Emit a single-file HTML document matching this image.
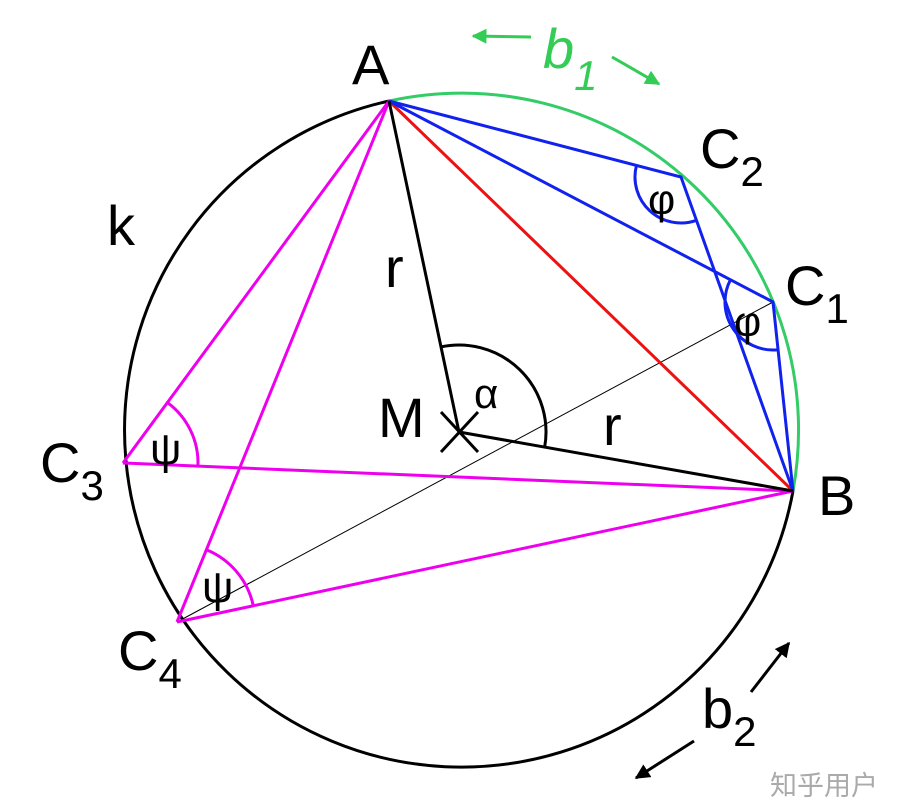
<!DOCTYPE html>
<html><head><meta charset="utf-8"><style>
html,body{margin:0;padding:0;background:#fff;}
svg{display:block}
text{font-family:"Liberation Sans","Noto Sans CJK SC",sans-serif;}
</style></head><body>
<svg id="s" width="905" height="812" viewBox="0 0 905 812" xmlns="http://www.w3.org/2000/svg">
<defs>
<marker id="ag" viewBox="0 0 10 10" refX="9" refY="5" markerWidth="5" markerHeight="5" orient="auto"><path d="M0,0 L10,5 L0,10 z" fill="#33cc55"/></marker>
<marker id="ak" viewBox="0 0 10 10" refX="9" refY="5" markerWidth="5" markerHeight="5" orient="auto"><path d="M0,0 L10,5 L0,10 z" fill="#000"/></marker>
</defs>
<path d="M793,491 A337,337 0 1 1 389,101" fill="none" stroke="#000" stroke-width="3"/>
<path d="M389,101 A337,337 0 0 1 793,491" fill="none" stroke="#33cc66" stroke-width="3"/>
<line x1="177" y1="622" x2="773" y2="302" stroke="#000" stroke-width="1"/>
<g stroke="#ee00ee" stroke-width="3" fill="none">
<line x1="389" y1="101" x2="123" y2="463"/>
<line x1="123" y1="463" x2="793" y2="491"/>
<line x1="389" y1="101" x2="177" y2="622"/>
<line x1="177" y1="622" x2="793" y2="491"/>
</g>
<line x1="389" y1="101" x2="793" y2="491" stroke="#ee1111" stroke-width="3"/>
<g stroke="#1122ee" stroke-width="3" fill="none">
<polyline points="389,101 681,177 793,491"/>
<polyline points="389,101 773,302 793,491"/>
</g>
<g stroke="#000" stroke-width="3" fill="none">
<line x1="389" y1="101" x2="459" y2="432"/>
<line x1="459" y1="432" x2="793" y2="491"/>
<line x1="441" y1="412" x2="478" y2="452"/>
<line x1="441" y1="452" x2="478" y2="412"/>
</g>
<g id="arcs"></g>
<line x1="531" y1="37" x2="473" y2="36" stroke="#33cc55" stroke-width="3" marker-end="url(#ag)"/>
<line x1="612" y1="57" x2="659" y2="84" stroke="#33cc55" stroke-width="3" marker-end="url(#ag)"/>
<line x1="751" y1="692" x2="789" y2="643" stroke="#000" stroke-width="3" marker-end="url(#ak)"/>
<line x1="694" y1="741" x2="636" y2="778" stroke="#000" stroke-width="3" marker-end="url(#ak)"/>
<g font-size="56" fill="#000">
<text x="352" y="84">A</text>
<text x="107" y="245">k</text>
<text x="385" y="287">r</text>
<text x="603" y="445">r</text>
<text x="378" y="437">M</text>
<text x="700" y="168">C<tspan font-size="42" dy="18">2</tspan></text>
<text x="785" y="305">C<tspan font-size="42" dy="18">1</tspan></text>
<text x="40" y="482">C<tspan font-size="42" dy="18">3</tspan></text>
<text x="118" y="670">C<tspan font-size="42" dy="18">4</tspan></text>
<text x="818" y="515">B</text>
<text x="702" y="728">b<tspan font-size="42" dy="18">2</tspan></text>
</g>
<g font-family="'DejaVu Sans',sans-serif">
<text x="474" y="408" font-size="42">α</text>
<text x="648" y="214" font-size="42">φ</text>
<text x="734" y="336" font-size="42">φ</text>
<text x="150" y="464" font-size="44">ψ</text>
<text x="202" y="602" font-size="44">ψ</text>
</g>
<text x="543" y="68" font-size="56" fill="#33cc55" font-style="italic">b<tspan font-size="42" dy="22">1</tspan></text>
<text x="770" y="795" font-size="27" fill="#aaaaaa">知乎用户</text>
</svg>
<script>
(function(){
var g=document.getElementById('arcs');
function arc(P,Q1,Q2,r,col,dash,w){
 function u(Q){var dx=Q[0]-P[0],dy=Q[1]-P[1],l=Math.hypot(dx,dy);return [dx/l,dy/l];}
 var a=u(Q1),b=u(Q2);var cr=a[0]*b[1]-a[1]*b[0];
 var s=cr>0?1:0;
 var p=document.createElementNS('http://www.w3.org/2000/svg','path');
 p.setAttribute('d','M'+(P[0]+r*a[0])+','+(P[1]+r*a[1])+' A'+r+','+r+' 0 0 '+s+' '+(P[0]+r*b[0])+','+(P[1]+r*b[1]));
 p.setAttribute('fill','none');p.setAttribute('stroke',col);p.setAttribute('stroke-width',w||3);
 if(dash)p.setAttribute('stroke-dasharray',dash);
 g.appendChild(p);
}
var A=[389,101],B=[793,491],M=[459,432],C1=[773,302],C2=[681,177],C3=[123,463],C4=[177,622];
arc(M,A,B,87,'#000');
arc(C3,A,B,75,'#ee00ee');
arc(C4,A,B,78,'#ee00ee');
arc(C2,A,B,46,'#1122ee');
arc(C1,A,B,48,'#1122ee');
})();
</script>
</body></html>
